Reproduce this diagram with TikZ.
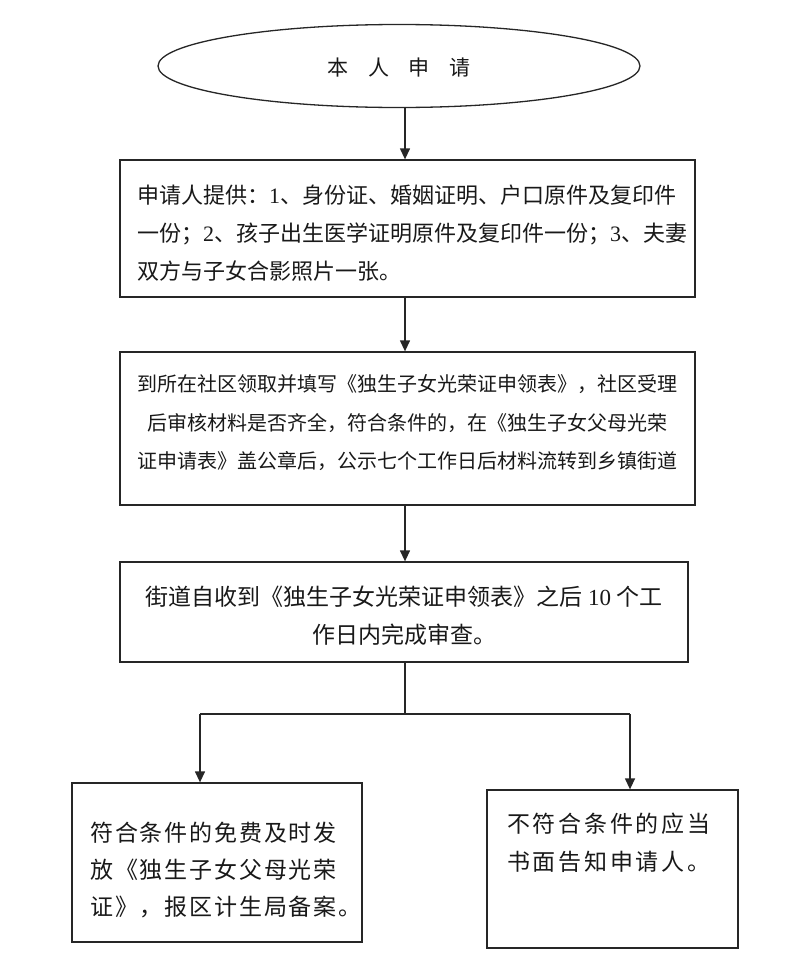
\documentclass[tikz,border=0pt]{standalone}
\usepackage{fontspec}
\setmainfont{Noto Sans CJK SC}
\newfontfamily\lat{Liberation Serif}
\usetikzlibrary{shapes.geometric,arrows.meta}
\tikzset{
  shapeline/.style={draw=black!85, line width=1.3pt},
  boxnode/.style={shapeline, rectangle, inner sep=0pt},
  arr/.style={draw=black!85, line width=1.3pt, -{Triangle[width=10pt,length=11pt]}},
  ln/.style={draw=black!85, line width=1.3pt},
  txt/.style={inner sep=0pt, text=black!90, align=left}
}
\begin{document}
\begin{tikzpicture}[x=1pt,y=-1pt]
\useasboundingbox[fill=white] (0,0) rectangle (807,972);
% shapes
\node[shapeline, ellipse, minimum width=482pt, minimum height=83pt, inner sep=0pt] (start) at (399,66) {};
\node[boxnode, minimum width=575pt, minimum height=137pt] (b1) at (407.5,228.5) {};
\node[boxnode, minimum width=575pt, minimum height=153pt] (b2) at (407.5,428.5) {};
\node[boxnode, minimum width=568pt, minimum height=100pt] (b3) at (404,612) {};
\node[boxnode, minimum width=290pt, minimum height=159pt] (bl) at (217,862.5) {};
\node[boxnode, minimum width=251pt, minimum height=158pt] (br) at (612.5,869) {};
% texts
\node[txt, font=\fontsize{21pt}{21pt}\selectfont] (t0) at (399,68) {本\hspace{0.95em}人\hspace{0.95em}申\hspace{0.95em}请};
\node[txt, anchor=west, font=\fontsize{22pt}{38pt}\selectfont] (t1) at (137,233)
  {申请人提供：{\lat 1}、身份证、婚姻证明、户口原件及复印件\\一份；{\lat 2}、孩子出生医学证明原件及复印件一份；{\lat 3}、夫妻\\双方与子女合影照片一张。};
\node[txt, align=center, font=\fontsize{20pt}{38.5pt}\selectfont] (t2) at (407,423)
  {到所在社区领取并填写《独生子女光荣证申领表》，社区受理\\后审核材料是否齐全，符合条件的，在《独生子女父母光荣\\证申请表》盖公章后，公示七个工作日后材料流转到乡镇街道};
\node[txt, align=center, font=\fontsize{23pt}{38pt}\selectfont] (t3) at (404,616)
  {街道自收到《独生子女光荣证申领表》之后 {\lat 10} 个工\\作日内完成审查。};
\node[txt, anchor=west, font=\fontsize{23pt}{37pt}\selectfont\addfontfeature{LetterSpace=8}] (t4) at (90,870)
  {符合条件的免费及时发\\放《独生子女父母光荣\\证》，报区计生局备案。};
\node[txt, anchor=west, font=\fontsize{23pt}{38pt}\selectfont\addfontfeature{LetterSpace=12}] (t5) at (507,843)
  {不符合条件的应当\\书面告知申请人。};
% connectors
\coordinate (spine) at (405,0);
\coordinate (split) at (405,714);
\coordinate (lft) at (200,714);
\coordinate (rgt) at (630,714);
\draw[arr] (start.south -| spine) -- (b1.north -| spine);
\draw[arr] (b1.south -| spine) -- (b2.north -| spine);
\draw[arr] (b2.south -| spine) -- (b3.north -| spine);
\draw[ln] (b3.south -| spine) -- (split);
\draw[ln] (lft) -- (rgt);
\draw[arr] (lft) -- (bl.north -| lft);
\draw[arr] (rgt) -- (br.north -| rgt);
\end{tikzpicture}
\end{document}
